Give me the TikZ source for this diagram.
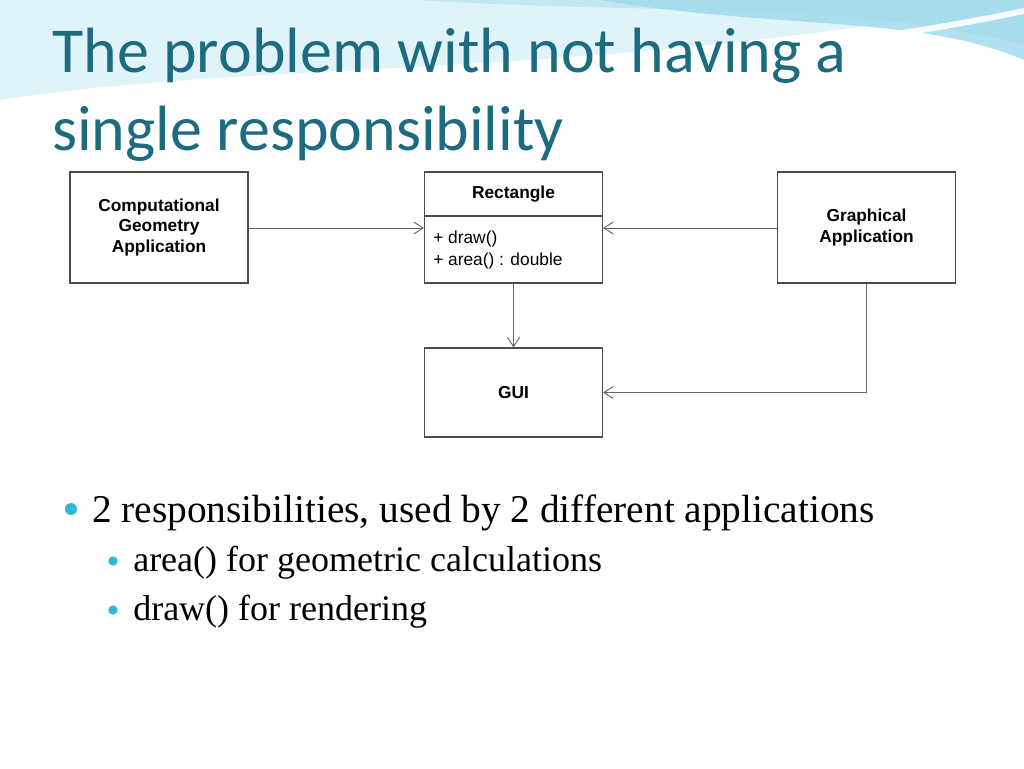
\documentclass[tikz,border=0pt]{standalone}
\usepackage{fontspec}
\setmainfont{Liberation Serif}
\newfontfamily\titlefont{Carlito}
\newfontfamily\diafont{Liberation Sans}
\usetikzlibrary{arrows.meta}
\definecolor{titlec}{HTML}{1C6B80}
\definecolor{bulc}{HTML}{2FB8D8}
\definecolor{wave}{HTML}{9ED9EA}
\tikzset{
  box/.style={draw=black!70, line width=0.8pt, fill=white, minimum width=133.5pt, minimum height=83.25pt, inner sep=0pt, font=\diafont\bfseries\fontsize{13}{15.5}\selectfont, align=center},
  conn/.style={draw=black!60, line width=0.7pt, -{Straight Barb[length=7pt,width=9pt]}},
  bul/.style={circle, fill=bulc, inner sep=0pt}
}
\begin{document}
\begin{tikzpicture}[x=0.75pt,y=-0.75pt]
\useasboundingbox (0,0) rectangle (1024,768);
\fill[white] (0,0) rectangle (1024,768);
% waves
\fill[wave!40, opacity=0.8] (0,100) .. controls (250,60) and (600,80) .. (1024,0) -- (0,0) -- cycle;
\fill[wave!70, opacity=0.8] (420,0) .. controls (650,15) and (850,0) .. (1024,45) -- (1024,0) -- cycle;
\fill[wave, opacity=0.8] (600,0) .. controls (780,30) and (920,15) .. (1024,60) -- (1024,0) -- cycle;
\fill[white, opacity=0.9] (0,104) .. controls (250,66) and (650,86) .. (1024,8) -- (1024,14) .. controls (650,92) and (250,72) .. (0,112) -- cycle;
% title
\node[anchor=base west, text=titlec, font=\titlefont\fontsize{48}{52}\selectfont, inner sep=0pt] (t1) at (52,72) {The problem with not having a};
\node[anchor=base west, text=titlec, font=\titlefont\fontsize{48}{52}\selectfont, inner sep=0pt] (t2) at (52,150) {single responsibility};
% diagram
\fill[white] (68,165) rectangle (955,440);
\node[box] (cga) at (159,227.5) {Computational\\Geometry\\Application};
\node[box] (rect) at (513.5,227.5) {};
\draw[draw=black!70, line width=0.8pt] (425,216) -- (602,216);
\node[font=\diafont\bfseries\fontsize{13}{15}\selectfont] (rn) at (513.5,194) {Rectangle};
\node[anchor=west, align=left, font=\diafont\fontsize{13}{16}\selectfont, inner sep=0pt] (rm) at (433,250) {+ draw()\\+ area() : double};
\node[box] (gra) at (866.5,227.5) {Graphical\\Application};
\node[box, minimum height=66.75pt] (gui) at (513.5,392.5) {GUI};
\draw[conn] (cga.east|-0,228) -- (rect.west|-0,228);
\draw[conn] (gra.west|-0,228) -- (rect.east|-0,228);
\draw[conn] (rect.south) -- (gui.north);
\draw[conn] (gra.south) |- (gui.east);
% bullets
\node[bul, minimum size=9pt] (b1) at (71,509) {};
\node[anchor=base west, font=\fontsize{29.5}{34}\selectfont, inner sep=0pt] (l1) at (92,522) {2 responsibilities, used by 2 different applications};
\node[bul, minimum size=7pt] (b2) at (113,561) {};
\node[anchor=base west, font=\fontsize{27}{31}\selectfont, inner sep=0pt] (l2) at (133,571) {area() for geometric calculations};
\node[bul, minimum size=7pt] (b3) at (113,610) {};
\node[anchor=base west, font=\fontsize{27}{31}\selectfont, inner sep=0pt] (l3) at (133,620) {draw() for rendering};
\end{tikzpicture}
\end{document}
